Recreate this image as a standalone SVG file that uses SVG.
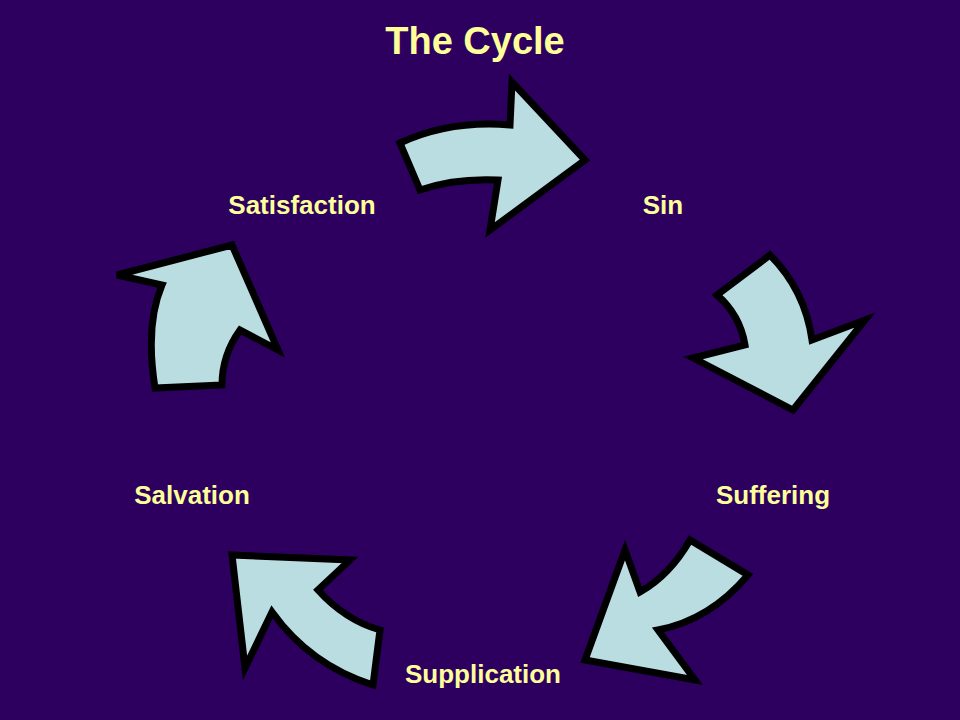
<svg xmlns="http://www.w3.org/2000/svg" width="960" height="720" viewBox="0 0 960 720">
<style>
.a{fill:#B9DDE1;stroke:#000;stroke-width:7;stroke-linejoin:miter}
.t{font-family:"Liberation Sans",Arial,sans-serif;font-weight:bold;fill:#FFFF99;font-size:26px}
</style>
<rect width="960" height="720" fill="#2D0060"/>
<text class="t" x="475" y="54" text-anchor="middle" font-size="38" style="font-size:38px">The Cycle</text>
<g id="connectors">
<path class="a" d="M400,143 Q450,120 510,125 L512,82 L585,160 L490,230 L498,180 Q455,178 420,190 Z"/>
<path class="a" d="M717,295 L770,255 Q805,290 812,340 L865,320 L793,410 L693,358 L745,345 Q740,315 717,295 Z"/>
<path class="a" d="M690,540 L748,575 Q710,620 658,630 L695,680 L585,660 L625,550 L640,592 Q670,575 690,540 Z"/>
<path class="a" d="M380,630 L373,685 Q310,665 272,612 L245,668 L232,555 L350,560 L318,590 Q345,620 380,630 Z"/>
<path class="a" d="M155,388 Q145,325 162,285 L117,275 L232,245 L278,350 L240,330 Q222,355 222,385 Z"/>
</g>
<g id="sin"><text class="t" x="663" y="214" text-anchor="middle">Sin</text></g>
<g id="suffering"><text class="t" x="773" y="504" text-anchor="middle">Suffering</text></g>
<g id="supplication"><text class="t" x="483" y="683" text-anchor="middle">Supplication</text></g>
<g id="salvation"><text class="t" x="192" y="504" text-anchor="middle">Salvation</text></g>
<g id="satisfaction"><text class="t" x="302" y="214" text-anchor="middle">Satisfaction</text></g>
</svg>
